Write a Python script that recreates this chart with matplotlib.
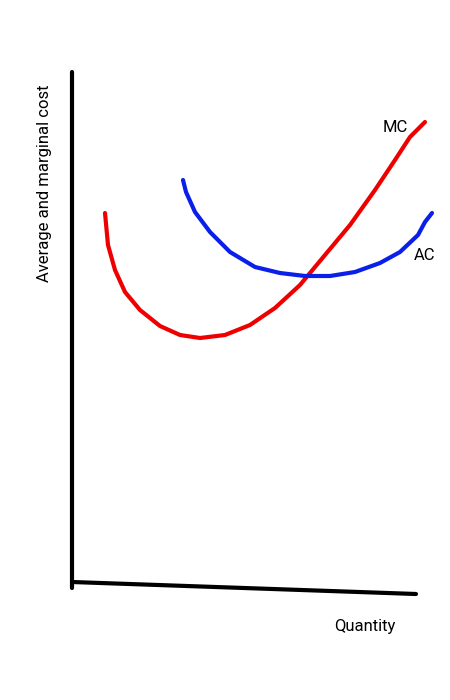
import matplotlib.pyplot as plt

# hand-drawn sketch, coordinates (pixels, y downward)
mc_x = [105, 108, 115, 125, 140, 160, 180, 200, 225, 250, 275, 300, 325, 350, 375, 395, 410, 425]
mc_y = [213, 245, 270, 292, 310, 326, 335, 338, 335, 325, 308, 285, 255, 225, 190, 160, 137, 122]
ac_x = [183, 186, 195, 210, 230, 255, 280, 305, 330, 355, 380, 400, 418, 425, 432]
ac_y = [180, 192, 212, 232, 252, 267, 273, 276, 276, 272, 263, 252, 235, 222, 213]
yaxis_x, yaxis_y = [72, 72], [72, 588]
xaxis_x, xaxis_y = [72, 416], [582, 594]

fig = plt.figure(figsize=(4.5, 7), dpi=100)
ax = fig.add_axes([0, 0, 1, 1])
ax.set_xlim(0, 450)
ax.set_ylim(700, 0)
ax.axis('off')

ax.plot(yaxis_x, yaxis_y, color='black', lw=3, solid_capstyle='round')
ax.plot(xaxis_x, xaxis_y, color='black', lw=3, solid_capstyle='round')
ax.plot(mc_x, mc_y, color='#ee0000', lw=3, solid_capstyle='round')
ax.plot(ac_x, ac_y, color='#0a1fe8', lw=3, solid_capstyle='round')

ax.text(395, 127, 'MC', fontsize=12, family='Roboto', ha='center', va='center')
ax.text(425, 255, 'AC', fontsize=12, family='Roboto', ha='center', va='center')
ax.text(365, 627, 'Quantity', fontsize=12, family='Roboto', ha='center', va='center')
ax.text(45, 183, 'Average and marginal cost', fontsize=12, family='Roboto',
        rotation=90, ha='center', va='center')

fig.savefig('out.png', dpi=100, facecolor='white')
